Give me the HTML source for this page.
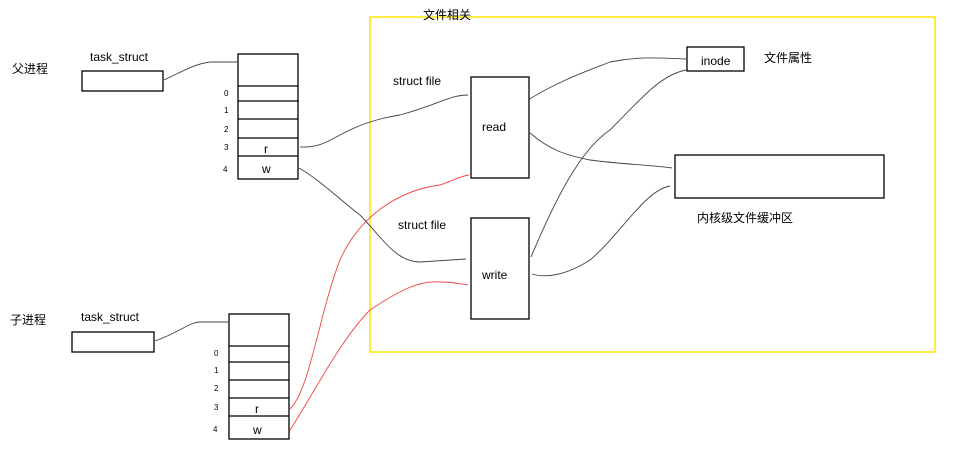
<!DOCTYPE html>
<html><head><meta charset="utf-8"><style>
html,body{margin:0;padding:0;background:#fff;}
svg{display:block;}
text{font-family:"Liberation Sans","Noto Sans CJK SC",sans-serif;fill:#000;}
</style></head><body>
<svg width="980" height="456" viewBox="0 0 980 456" xmlns="http://www.w3.org/2000/svg">
<rect x="370" y="17" width="565" height="335" fill="none" stroke="#ffe600" stroke-width="1.5"/>
<text x="423" y="19" font-size="12">文件相关</text>

<!-- parent -->
<text x="12" y="73" font-size="12">父进程</text>
<text x="90" y="61" font-size="12">task_struct</text>
<rect x="82" y="71" width="81" height="20" fill="none" stroke="#000" stroke-width="1.3"/>
<g fill="none" stroke="#000" stroke-width="1.3">
<rect x="238" y="54" width="60" height="125"/>
<line x1="238" y1="86" x2="298" y2="86"/>
<line x1="238" y1="101" x2="299" y2="101"/>
<line x1="238" y1="119" x2="298" y2="119"/>
<line x1="238" y1="138" x2="298" y2="138"/>
<line x1="238" y1="156" x2="298" y2="156"/>
</g>
<g font-size="8"><text x="224" y="96">0</text><text x="224" y="113">1</text><text x="224" y="132">2</text><text x="224" y="150">3</text><text x="223" y="172">4</text></g>
<text x="264" y="153" font-size="12">r</text>
<text x="262" y="173" font-size="12">w</text>

<!-- child -->
<text x="10" y="324" font-size="12">子进程</text>
<text x="81" y="321" font-size="12">task_struct</text>
<rect x="72" y="332" width="82" height="20" fill="none" stroke="#000" stroke-width="1.3"/>
<g fill="none" stroke="#000" stroke-width="1.3">
<rect x="229" y="314" width="60" height="125"/>
<line x1="229" y1="346" x2="289" y2="346"/>
<line x1="229" y1="362" x2="289" y2="362"/>
<line x1="229" y1="380" x2="289" y2="380"/>
<line x1="229" y1="398" x2="289" y2="398"/>
<line x1="229" y1="416" x2="289" y2="416"/>
</g>
<g font-size="8"><text x="214" y="356">0</text><text x="214" y="373">1</text><text x="214" y="391">2</text><text x="214" y="410">3</text><text x="213" y="432">4</text></g>
<text x="255" y="413" font-size="12">r</text>
<text x="253" y="434" font-size="12">w</text>

<!-- files -->
<rect x="471" y="77" width="58" height="101" fill="none" stroke="#000" stroke-width="1.3"/>
<text x="482" y="131" font-size="12">read</text>
<rect x="471" y="218" width="58" height="101" fill="none" stroke="#000" stroke-width="1.3"/>
<text x="482" y="279" font-size="12">write</text>
<text x="393" y="85" font-size="12">struct file</text>
<text x="398" y="229" font-size="12">struct file</text>

<rect x="687" y="47" width="57" height="24" fill="none" stroke="#000" stroke-width="1.3"/>
<text x="701" y="65" font-size="12">inode</text>
<text x="764" y="62" font-size="12">文件属性</text>
<rect x="675" y="155" width="209" height="43" fill="none" stroke="#000" stroke-width="1.3"/>
<text x="697" y="222" font-size="12">内核级文件缓冲区</text>

<!-- black connectors -->
<g fill="none" stroke="#444" stroke-width="0.9">
<path d="M164 80 C185 70,195 64,210 62 L237 62"/>
<path d="M155 341 C180 332,190 322,200 322 L228 322"/>
<path d="M300 147 C320 148,330 140,340 135 C360 124,380 118,400 115 C440 104,450 95,468 95"/>
<path d="M299 168 C320 180,340 200,360 215 C380 235,395 262,420 262 L466 259"/>
<path d="M528 100 C560 80,590 70,610 62 C640 56,660 58,686 59"/>
<path d="M530 133 C550 150,565 155,590 160 C620 164,650 165,672 168"/>
<path d="M531 257 C555 200,580 150,610 130 C640 100,660 75,686 70"/>
<path d="M532 274 C545 278,565 276,590 260 C620 235,645 190,670 186"/>
</g>
<!-- red connectors -->
<g fill="none" stroke="#ee4444" stroke-width="0.9">
<path d="M290 409 C310 390,320 310,340 260 C360 215,400 190,440 185 C455 180,460 176,469 175"/>
<path d="M290 430 C310 400,340 340,370 310 C400 290,420 280,440 282 C455 282,460 284,468 285"/>
</g>
</svg>
</body></html>
